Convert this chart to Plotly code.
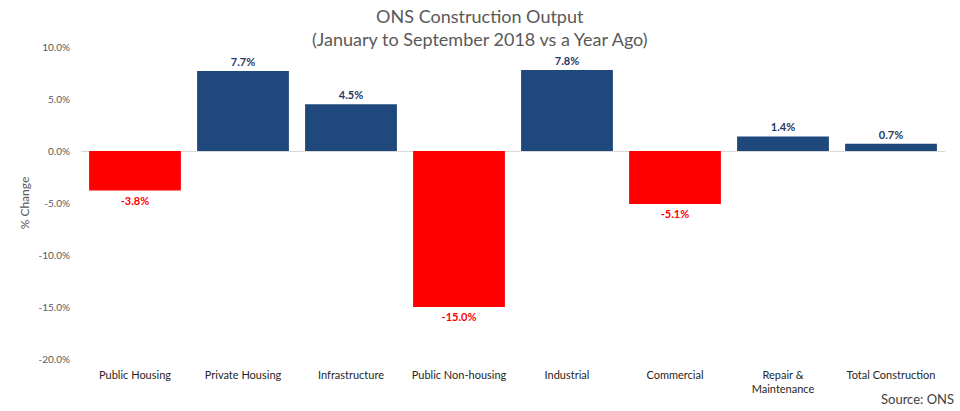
import plotly.graph_objects as go

categories = ["Public Housing", "Private Housing", "Infrastructure", "Public Non-housing",
              "Industrial", "Commercial", "Repair &<br>Maintenance", "Total Construction"]
values = [-3.8, 7.7, 4.5, -15.0, 7.8, -5.1, 1.4, 0.7]
tick_vals = [10, 5, 0, -5, -10, -15, -20]

BLUE = "#1F497D"
LABEL_BLUE = "#1F3864"
RED = "#FF0000"

bar_colors = [RED if v < 0 else BLUE for v in values]
text_colors = [RED if v < 0 else LABEL_BLUE for v in values]
texts = [f"{v:.1f}%" for v in values]

fig = go.Figure(go.Bar(
    x=categories, y=values,
    marker=dict(color=bar_colors, line=dict(width=0)),
    text=texts, textposition="outside",
    textfont=dict(color=text_colors, size=11, family="Lato", weight="bold"),
    cliponaxis=False,
))

fig.update_layout(
    width=960, height=411,
    margin=dict(l=81, r=15, t=47, b=52),
    paper_bgcolor="white", plot_bgcolor="white",
    font=dict(family="Lato", color="#404040", size=11),
    bargap=0.15,
    showlegend=False,
    annotations=[
        dict(text="ONS Construction Output<br>(January to September 2018 vs a Year Ago)",
             xref="paper", yref="paper", x=(480 - 81) / 864, y=(312 + 44) / 312,
             xanchor="center", yanchor="top", showarrow=False,
             font=dict(size=18, color="#595959", family="Lato")),
        dict(text="Source: ONS", xref="paper", yref="paper", x=(956 - 81) / 864, y=-0.095,
             xanchor="right", yanchor="top", showarrow=False,
             font=dict(size=13, color="#404040")),
    ],
)
fig.update_yaxes(range=[-20, 10], tickvals=tick_vals, ticktext=[f"{t:.1f}%" for t in tick_vals],
                 showgrid=False, zeroline=True, zerolinecolor="#D9D9D9", zerolinewidth=1,
                 tickfont=dict(size=10, color="#595959"), ticklabelstandoff=10,
                 title=dict(text="% Change", font=dict(size=12, color="#595959"), standoff=6))
fig.update_xaxes(showgrid=False, showline=False, ticks="", tickfont=dict(size=11, color="#262626"),
                 tickangle=0, ticklabelstandoff=8, range=[-0.5, 7.5])

fig.write_html("out.html")
